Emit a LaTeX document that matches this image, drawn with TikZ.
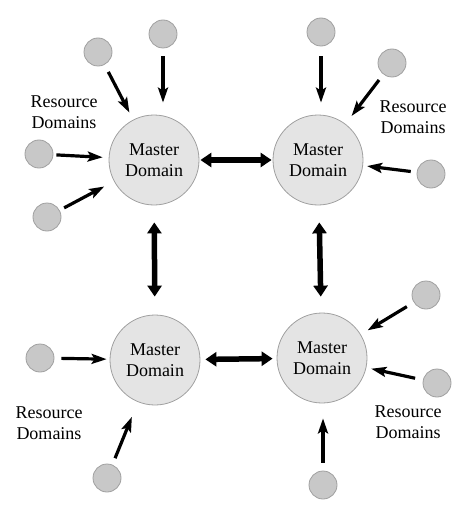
\documentclass[tikz,border=0pt]{standalone}
\usepackage{fontspec}
\setmainfont{Liberation Serif}
\usetikzlibrary{arrows.meta}
\definecolor{mfill}{RGB}{228,228,228}
\definecolor{sfill}{RGB}{200,200,200}
\definecolor{edge}{RGB}{160,160,160}
\begin{document}
\begin{tikzpicture}[x=1pt,y=-1pt,
  master/.style={circle,draw=edge,line width=0.8pt,fill=mfill,minimum size=90pt,inner sep=0pt,align=center,font=\fontsize{18}{21}\selectfont},
  res/.style={circle,draw=edge,line width=0.8pt,fill=sfill,minimum size=28pt,inner sep=0pt},
  thinarrow/.style={line width=3.2pt,-{Stealth[length=15pt,width=10pt,inset=3pt]}},
  bigarrow/.style={line width=5.5pt,{Triangle[length=11pt,width=14pt]}-{Triangle[length=11pt,width=14pt]}},
  lbl/.style={align=center,inner sep=0pt,font=\fontsize{18}{21}\selectfont}]
\useasboundingbox (0,0) rectangle (474,508);
% master domains
\node[master] (m1) at (154,160) {Master\\Domain};
\node[master] (m2) at (318,160) {Master\\Domain};
\node[master] (m3) at (155,360) {Master\\Domain};
\node[master] (m4) at (322,358) {Master\\Domain};
% resource domains
\node[res] (a1) at (98,52) {};
\node[res] (a2) at (163,34) {};
\node[res] (a3) at (39,154) {};
\node[res] (a4) at (47,217) {};
\node[res] (b1) at (321,32) {};
\node[res] (b2) at (392,63) {};
\node[res] (b3) at (431,174) {};
\node[res] (c1) at (40,358) {};
\node[res] (c2) at (107,478) {};
\node[res] (d1) at (426,295) {};
\node[res] (d2) at (437,383) {};
\node[res] (d3) at (323,485) {};
% labels
\node[lbl] (l1) at (64,112) {Resource\\Domains};
\node[lbl] (l2) at (413,117) {Resource\\Domains};
\node[lbl] (l3) at (49,423) {Resource\\Domains};
\node[lbl] (l4) at (408,422) {Resource\\Domains};
% thin arrows
\draw[thinarrow,shorten <=8pt,shorten >=8pt] (a1) -- (m1);
\draw[thinarrow,shorten <=8pt,shorten >=12pt] (a2) -- (a2 |- m1.north);
\draw[thinarrow,shorten <=3pt,shorten >=6pt] (a3) -- (m1);
\draw[thinarrow,shorten <=5pt,shorten >=11pt] (a4) -- (m1);
\draw[thinarrow,shorten <=10pt,shorten >=12pt] (b1) -- (b1 |- m2.north);
\draw[thinarrow,shorten <=7pt,shorten >=10pt] (b2) -- (m2);
\draw[thinarrow,shorten <=6pt,shorten >=4pt] (b3) -- (m2);
\draw[thinarrow,shorten <=7pt,shorten >=3pt] (c1) -- (m3);
\draw[thinarrow,shorten <=7pt,shorten >=16pt] (c2) -- (m3);
\draw[thinarrow,shorten <=8pt,shorten >=8pt] (d1) -- (m4);
\draw[thinarrow,shorten <=8pt,shorten >=5pt] (d2) -- (m4);
\draw[thinarrow,shorten <=8pt,shorten >=15pt] (d3) -- (d3 |- m4.south);
% big arrows
\draw[bigarrow,shorten <=1pt,shorten >=1pt] (m1) -- (m2);
\draw[bigarrow,shorten <=17pt,shorten >=18pt] (m1) -- (m3);
\draw[bigarrow,shorten <=5pt,shorten >=4pt] (m3) -- (m4);
\draw[bigarrow,shorten <=17pt,shorten >=16pt] (m2) -- (m4);
\end{tikzpicture}
\end{document}
